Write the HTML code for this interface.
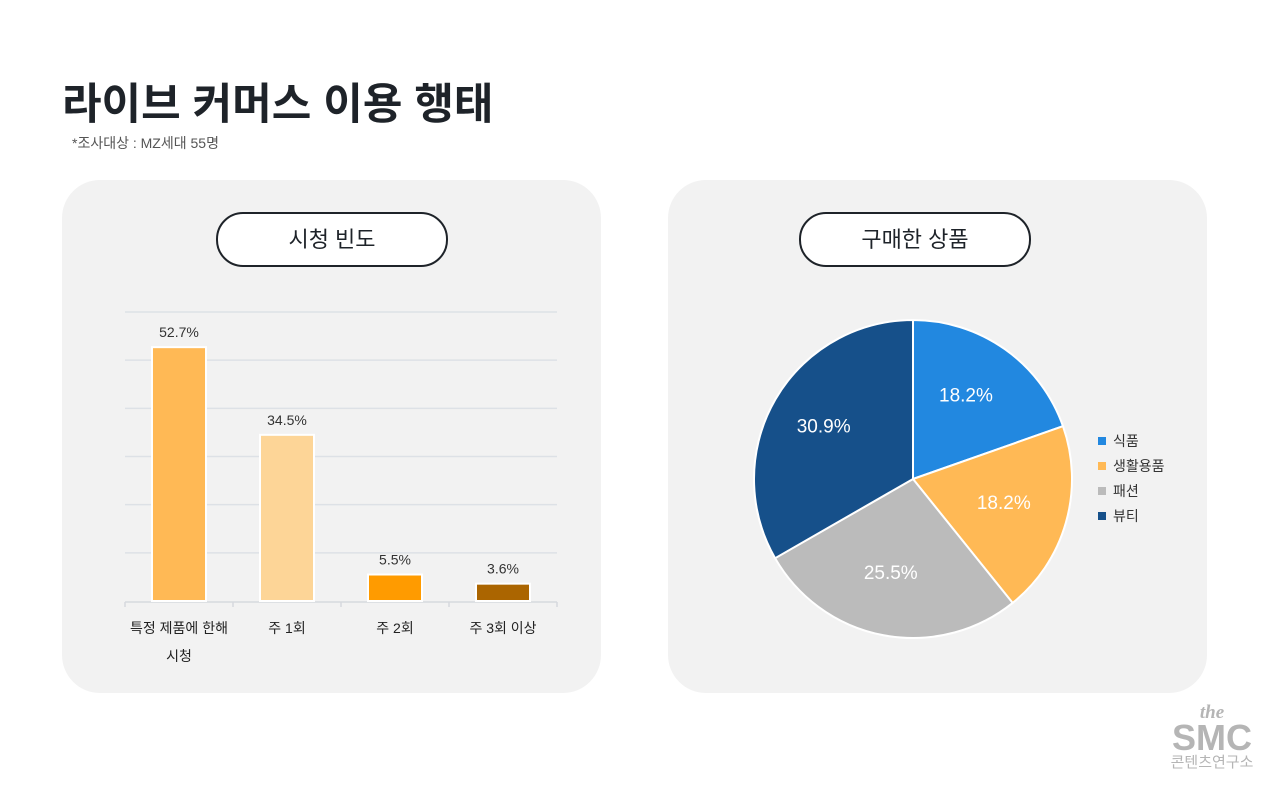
<!DOCTYPE html>
<html><head><meta charset="utf-8"><style>
body{margin:0;width:1280px;height:793px;background:#fff;font-family:"Liberation Sans","Noto Sans CJK KR",sans-serif;position:relative;overflow:hidden;color:#222}
.abs{position:absolute}
.card{position:absolute;top:180px;width:539px;height:513px;background:#f2f2f2;border-radius:38px}
.pill{position:absolute;top:212px;width:228px;height:51px;border:2.5px solid #1e2329;border-radius:27px;background:#fff;font-size:22px;text-align:center;line-height:51px;color:#1e2329}
</style></head><body>
<div class="abs" style="left:62px;top:70px;font-size:43px;font-weight:bold;color:#1e2329;letter-spacing:0px">라이브 커머스 이용 행태</div>
<div class="abs" style="left:72px;top:133px;font-size:14px;color:#555">*조사대상 : MZ세대 55명</div>
<div class="card" style="left:62px"></div>
<div class="card" style="left:668px"></div>
<div class="pill" style="left:216px">시청 빈도</div>
<div class="pill" style="left:799px">구매한 상품</div>
<svg class="abs" style="left:0;top:0" width="1280" height="793" id="svg"></svg>
<div class="abs" style="left:1164px;top:704px;width:96px;text-align:center;color:#b5b5b5">
<div style="font-family:'Liberation Serif',serif;font-style:italic;font-weight:bold;font-size:19px;line-height:18px">the</div>
<div style="font-weight:bold;font-size:36px;line-height:32px">SMC</div>
<div style="font-size:15px;line-height:18px">콘텐츠연구소</div></div>
<script>
const cats=["특정 제품에 한해|시청","주 1회","주 2회","주 3회 이상"];
const vals=[52.7,34.5,5.5,3.6];
const barColors=["#ffb955","#fdd597","#ff9b00","#ab6500"];
const pieCats=["식품","생활용품","패션","뷰티"];
const pieVals=[18.2,18.2,25.5,30.9];
const pieColors=["#2288e0","#ffb955","#bbbbbb","#16508a"];
const ticks=[0,10,20,30,40,50,60];
const NS="http://www.w3.org/2000/svg",svg=document.getElementById('svg');
function mk(t,a,txt){const e=document.createElementNS(NS,t);for(const k in a)e.setAttribute(k,a[k]);if(txt!=null)e.textContent=txt;svg.appendChild(e);return e;}
const x0=125,x1=557,yb=601,yt=312,ymax=60;
const y=v=>yb-(v/ymax)*(yb-yt);
const bw=(x1-x0)/cats.length;
ticks.forEach(t=>{if(t>0){const l=mk('line',{x1:x0,x2:x1,y1:y(t),y2:y(t),stroke:'#dde1e6','stroke-width':1.5});

}});
mk('line',{x1:x0,x2:x1,y1:yb+1,y2:yb+1,stroke:'#d6d9de','stroke-width':1.5});
for(let i=0;i<=cats.length;i++)mk('line',{x1:x0+i*bw,x2:x0+i*bw,y1:yb+1,y2:yb+6,stroke:'#d6d9de','stroke-width':1.5});
vals.forEach((v,i)=>{const cx=x0+bw*(i+.5);
const r=mk('rect',{x:cx-27,y:y(v),width:54,height:yb-y(v),fill:barColors[i],stroke:'#fff','stroke-width':2});


const t=mk('text',{x:cx,y:y(v)-10,'text-anchor':'middle','font-size':14,fill:'#333'},v+'%');


cats[i].split('|').forEach((s,j)=>{const c=mk('text',{x:cx,y:633+j*28,'text-anchor':'middle','font-size':14,fill:'#222'},s);

});});
const pcx=913,pcy=479,R=159,tot=pieVals.reduce((a,b)=>a+b,0);
let a=0;
pieVals.forEach((v,i)=>{const a2=a+v/tot*2*Math.PI;
const p=t=>[pcx+R*Math.sin(t),pcy-R*Math.cos(t)];
const [sx,sy]=p(a),[ex,ey]=p(a2);
const s=mk('path',{d:`M${pcx},${pcy}L${sx},${sy}A${R},${R} 0 ${a2-a>Math.PI?1:0} 1 ${ex},${ey}Z`,fill:pieColors[i],stroke:'#fff','stroke-width':2});


const m=(a+a2)/2,lr=R*0.62;
const t=mk('text',{x:pcx+lr*Math.sin(m)-4,y:pcy-lr*Math.cos(m)+3,'text-anchor':'middle','font-size':19,fill:'#fff'},v+'%');


a=a2;
const ly=441+i*25;
const lr2=mk('rect',{x:1098,y:ly-4,width:8,height:8,fill:pieColors[i]});


const lt=mk('text',{x:1113,y:ly+5,'font-size':14,fill:'#333'},pieCats[i]);

});
</script>
</body></html>
